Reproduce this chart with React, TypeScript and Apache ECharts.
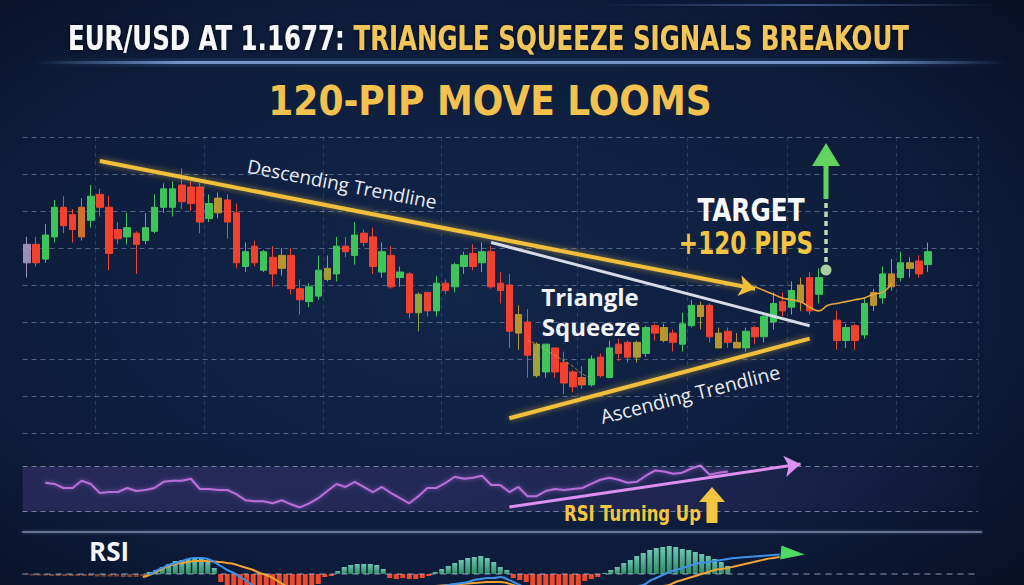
import React, { useEffect, useRef } from 'react';
import * as echarts from 'echarts';

// ---------- texts ----------
const TITLE_WHITE = 'EUR/USD AT 1.1677: ';
const TITLE_YELLOW = 'TRIANGLE SQUEEZE SIGNALS BREAKOUT';
const SUBTITLE = '120-PIP MOVE LOOMS';

// ---------- candles (one per slot, null = empty slot) ----------
const opens = [
  1.1642, 1.1642, 1.1634, 1.1646, 1.1662, 1.1658, 1.1662, 1.1655, 1.1669, 1.1662,
  1.1650, 1.1646, 1.1648, 1.1644, 1.1649, 1.1662, 1.1662, 1.1674, 1.1673, 1.1673,
  1.1656, 1.1659, 1.1666, 1.1659, 1.1630, 1.1641, 1.1628, 1.1635, 1.1636, 1.1636,
  1.1618, 1.1611, 1.1614, 1.1623, 1.1626, 1.1641, 1.1636, 1.1648, 1.1646, 1.1627,
  1.1636, 1.1624, 1.1626, 1.1605, 1.1616, 1.1606, 1.1621, 1.1619, 1.1630, 1.1637,
  1.1632, 1.1638, 1.1621, 1.1620, 1.1604, 1.1600, 1.1571, 1.1573, 1.1586, 1.1578,
  1.1573, 1.1570, 1.1566, 1.1581, 1.1570, 1.1588, 1.1589, 1.1581, 1.1583, 1.1598,
  1.1590, 1.1594, 1.1588, 1.1598, 1.1603, 1.1609, 1.1594, 1.1595, 1.1586, 1.1586,
  1.1597, 1.1592, 1.1600, 1.1611, 1.1608, 1.1611, 1.1624, 1.1615, null,
  1.1601, 1.1590, 1.1598, 1.1593, 1.1609, 1.1613, 1.1619, 1.1624, 1.1629, 1.1633, 1.1631,
];
const closes = [
  1.1632, 1.1632, 1.1647, 1.1662, 1.1652, 1.1650, 1.1646, 1.1668, 1.1662, 1.1637,
  1.1645, 1.1651, 1.1642, 1.1651, 1.1662, 1.1672, 1.1672, 1.1665, 1.1664, 1.1654,
  1.1664, 1.1667, 1.1654, 1.1632, 1.1638, 1.1632, 1.1638, 1.1626, 1.1629, 1.1618,
  1.1612, 1.1619, 1.1628, 1.1629, 1.1641, 1.1638, 1.1647, 1.1643, 1.1630, 1.1638,
  1.1619, 1.1627, 1.1605, 1.1615, 1.1606, 1.1621, 1.1617, 1.1631, 1.1636, 1.1630,
  1.1638, 1.1619, 1.1617, 1.1595, 1.1594, 1.1582, 1.1588, 1.1588, 1.1573, 1.1567,
  1.1565, 1.1566, 1.1580, 1.1571, 1.1586, 1.1583, 1.1581, 1.1589, 1.1597, 1.1594,
  1.1597, 1.1589, 1.1599, 1.1609, 1.1609, 1.1592, 1.1586, 1.1589, 1.1589, 1.1595,
  1.1592, 1.1603, 1.1610, 1.1606, 1.1617, 1.1620, 1.1606, 1.1624, null,
  1.1590, 1.1597, 1.1590, 1.1610, 1.1616, 1.1626, 1.1626, 1.1632, 1.1632, 1.1626, 1.1638,
];
const lows = [
  1.1624, 1.1630, 1.1632, 1.1643, 1.1648, 1.1643, 1.1644, 1.1651, 1.1657, 1.1628,
  1.1642, 1.1642, 1.1626, 1.1642, 1.1648, 1.1659, 1.1657, 1.1661, 1.1660, 1.1648,
  1.1654, 1.1656, 1.1645, 1.1629, 1.1627, 1.1630, 1.1627, 1.1619, 1.1625, 1.1615,
  1.1604, 1.1608, 1.1612, 1.1622, 1.1622, 1.1635, 1.1631, 1.1641, 1.1626, 1.1624,
  1.1618, 1.1619, 1.1602, 1.1595, 1.1603, 1.1603, 1.1615, 1.1616, 1.1626, 1.1628,
  1.1627, 1.1618, 1.1610, 1.1586, 1.1585, 1.1570, 1.1570, 1.1570, 1.1570, 1.1561,
  1.1562, 1.1564, 1.1565, 1.1570, 1.1570, 1.1579, 1.1578, 1.1578, 1.1581, 1.1590,
  1.1589, 1.1584, 1.1584, 1.1597, 1.1596, 1.1589, 1.1586, 1.1586, 1.1586, 1.1584,
  1.1588, 1.1589, 1.1596, 1.1603, 1.1604, 1.1606, 1.1604, 1.1610, null,
  1.1585, 1.1586, 1.1585, 1.1591, 1.1606, 1.1610, 1.1617, 1.1622, 1.1624, 1.1624, 1.1627,
];
const highs = [
  1.1646, 1.1646, 1.1653, 1.1666, 1.1668, 1.1661, 1.1667, 1.1674, 1.1672, 1.1668,
  1.1654, 1.1659, 1.1649, 1.1659, 1.1669, 1.1675, 1.1676, 1.1683, 1.1676, 1.1675,
  1.1669, 1.1670, 1.1669, 1.1664, 1.1643, 1.1644, 1.1639, 1.1641, 1.1640, 1.1640,
  1.1623, 1.1621, 1.1636, 1.1636, 1.1646, 1.1646, 1.1654, 1.1650, 1.1651, 1.1643,
  1.1641, 1.1630, 1.1627, 1.1616, 1.1616, 1.1625, 1.1623, 1.1632, 1.1638, 1.1642,
  1.1643, 1.1641, 1.1627, 1.1626, 1.1609, 1.1607, 1.1589, 1.1588, 1.1586, 1.1584,
  1.1574, 1.1576, 1.1582, 1.1583, 1.1590, 1.1591, 1.1590, 1.1590, 1.1598, 1.1599,
  1.1599, 1.1596, 1.1605, 1.1612, 1.1611, 1.1610, 1.1597, 1.1597, 1.1594, 1.1597,
  1.1598, 1.1605, 1.1616, 1.1616, 1.1622, 1.1624, 1.1627, 1.1629, null,
  1.1606, 1.1599, 1.1599, 1.1613, 1.1618, 1.1630, 1.1634, 1.1638, 1.1635, 1.1636, 1.1643,
];
// candles drawn in muted / olive tones
const candleTints: Record<number, string> = {
  0: '#9c8fb6', 6: '#d0702e', 21: '#b8942e', 28: '#b8942e', 33: '#a69b36',
  43: '#8fa53a', 54: '#b8942e', 56: '#9ea23a', 61: '#e0602c', 67: '#a69b36',
  70: '#b8942e', 74: '#b8942e', 76: '#b8942e', 78: '#b8942e', 85: '#b8942e',
  93: '#b8942e', 95: '#c48a2c', 97: '#b8942e',
};

// moving-average lines on the price panel
const maStart = 80;
const maValues = [1.1619, 1.1617, 1.1615, 1.1613, 1.1612, 1.1611, 1.1608, 1.1606, 1.1609, 1.1610,
  1.1611, 1.1612, 1.1613, 1.1615, 1.1616, 1.1621];
const ma2Start = 55;
const ma2Values = [1.1590, 1.1588, 1.1585, 1.1582, 1.1579, 1.1576, 1.1572, 1.1570];

// trend lines: [slot, price]
const descendingLine = [[8, 1.1687], [80, 1.1618]];
const upperGreyLine = [[51, 1.1643], [86, 1.1598]];
const ascendingLine = [[53, 1.1548], [86, 1.1591]];

// ---------- RSI ----------
const rsiStart = 2;
const rsiValues = [
  55.5, 54.5, 50.9, 50.9, 57.3, 54.5, 46.4, 47.3, 47.3, 50.9,
  48.2, 49.1, 50.9, 56.4, 57.3, 57.3, 59.1, 50.0, 50.0, 49.1,
  49.1, 45.5, 40.0, 39.1, 39.1, 37.3, 40.0, 36.4, 33.6, 37.3,
  41.8, 48.2, 54.5, 51.8, 56.4, 51.8, 47.3, 51.8, 46.4, 41.8,
  37.3, 43.6, 50.9, 50.9, 55.5, 60.9, 59.1, 60.0, 61.8, 53.6,
  53.6, 47.3, 51.8, 43.6, 43.6, 48.2, 50.0, 49.1, 50.0, 50.9,
  54.5, 58.2, 60.0, 58.2, 55.5, 56.4, 61.8, 66.4, 65.5, 63.6,
  64.5, 68.2, 70.9, 62.7, 64.5, 65.5,
];
const rsiLevels = [30, 70];
const rsiTrend = [[53, 34], [85, 72.2]];

// ---------- MACD ----------
const macdHist = [
  null, -1.5, -1.5, -1.5, -2, -2, -2, -2, -2, -2,
  -2, -2.5, -2.5, -2.5, -2.5, -3, -3, -3, -2, 2,
  4, 7, 10, 13, 14, 15, 15, 15, 13, 6,
  -8, -11, -14, -16, -18, -19, -20, -20, -19, -18,
  -17, -15, -14, -13, -12, -10, -3, -2, 3, 7,
  9, 10, 10, 10, 9, 5, -4, -5, -4, -5,
  -5, -4, -2, 2, 5, 8, 11, 14, 16, 17,
  18, 16, 12, 7, 4, -4, -6, -8, -11, -14,
  -16, -17, -17, -16, -14, -11, -7, -5, -3, 1,
  4, 7, 11, 14, 18, 21, 24, 26, 27, 28,
  27, 25, 24, 22, 20, 18, 15, 12, 8,
];
const macdStart = 19;
const macdLine = [
  -1, 3, 6, 9, 11, 13, 15, 16, 16, 15,
  12, 8, 4, 1, -3, -7, -12, -15, -18, -21,
  -23, -25, -26, -27, -27, -27, -27, -26, -26, -25,
  -24, -23, -22, -21, -20, -19, -18, -17, -16, -15,
  -14, -13, -12, -12, -12, -12, -11, -10, -9, -8,
  -6, -5, -4, -4, -3, -5, -8, -11, -14, -16,
  -18, -19, -20, -20, -20, -19, -18, -17, -16, -15,
  -15, -14, -14, -13, -13, -12, -11, -7, -4, -1,
  2, 4, 6, 8, 10, 11, 12, 13, 14, 15,
  16, 16.5, 17, 17.5, 18, 18.5, 19, 19.5,
];
const signalStart = 18;
const signalLine = [
  -3, -1, 2, 5, 8, 10, 11, 12, 13, 13,
  13, 12.5, 12, 11, 10, 8, 6, 4, 1, -1,
  -4, -8, -12, -15, -17, -19, -21, -22, -23, -24,
  -24, -24, -24, -23, -22, -21, -20, -19, -18, -17,
  -16, -15, -14, -13, -12.5, -12, -11.5, -11, -10.5, -10,
  -9.5, -9, -8.5, -8, -8, -8, -9, -11, -13, -15,
  -16, -17, -18, -19, -19, -19, -19, -19, -18, -18,
  -17, -17, -16, -16, -15, -15, -14, -14, -13, -12.5,
  -12, -11, -8, -6, -4, -2, 0, 2, 4, 5,
  6, 7.5, 9, 10.5, 12, 13.5, 15, 16, 17,
];

// ---------- layout constants ----------
const MAIN_SLOTS = 105;
const MACD_SLOTS = 147;
const VLINE_SLOTS = [8, 20, 33, 46, 61, 73, 84, 96];
const COND = "'DejaVu Sans Condensed', 'DejaVu Sans', sans-serif";
const OPEN = "'Open Sans', 'Noto Sans', sans-serif";
const YELLOW = '#f5c542';
const GOLD = '#f0bf3a';

function fillSlots(len: number, start: number, vals: (number | null)[]) {
  const out: (number | null)[] = Array.from({ length: len }, () => null);
  vals.forEach((v, i) => { out[start + i] = v; });
  return out;
}

function buildOption() {
  const mainCats = Array.from({ length: MAIN_SLOTS }, (_, i) => String(i));
  const macdCats = Array.from({ length: MACD_SLOTS }, (_, i) => String(i));

  const candleData = opens.map((o, i) => {
    if (o === null) return ['-', '-', '-', '-'];
    const v = [o, closes[i], lows[i], highs[i]];
    const t = candleTints[i];
    return t ? { value: v, itemStyle: { color: t, color0: t, borderColor: t, borderColor0: t } } : v;
  });

  const lineStyleGold = { color: GOLD, width: 4, type: 'solid', shadowBlur: 6, shadowColor: 'rgba(240,190,60,0.55)' };

  const macdLineData: any[] = fillSlots(MACD_SLOTS, macdStart, macdLine);
  const lastIdx = macdStart + macdLine.length - 1;
  macdLineData[lastIdx] = {
    value: macdLine[macdLine.length - 1],
    symbol: 'triangle', symbolSize: [14, 24], symbolRotate: -95, symbolOffset: [13, -1],
    itemStyle: { color: '#4cd964' },
  };

  const shadowTxt = { shadowBlur: 4, shadowColor: 'rgba(0,0,0,0.7)', shadowOffsetY: 1 };
  const titleRich = (fill: string) => ({
    fill, color: fill, fontSize: 34, fontWeight: 'bold', fontFamily: COND,
    textShadowBlur: 4, textShadowColor: 'rgba(0,0,0,0.7)',
  });

  return {
    animation: false,
    backgroundColor: '#0b1833',
    grid: [
      { left: 22.5, width: 955.5, top: 137, height: 296 },
      { left: 22.5, width: 955.5, top: 462, height: 54 },
      { left: 22.5, width: 955.5, top: 540, height: 45 },
    ],
    xAxis: [
      {
        type: 'category', gridIndex: 0, data: mainCats, boundaryGap: true,
        axisLine: { show: false }, axisTick: { show: false }, axisLabel: { show: false },
        splitLine: { show: true, interval: (i: number) => VLINE_SLOTS.includes(i), lineStyle: { color: 'rgba(150,175,215,0.22)', type: [4, 4] } },
      },
      { type: 'category', gridIndex: 1, data: mainCats, boundaryGap: true, show: false },
      { type: 'category', gridIndex: 2, data: macdCats, boundaryGap: true, show: false },
    ],
    yAxis: [
      {
        type: 'value', gridIndex: 0, min: 1.154, max: 1.17, interval: 0.002, scale: true,
        axisLine: { show: false }, axisTick: { show: false }, axisLabel: { show: false },
        splitLine: { show: true, lineStyle: { color: 'rgba(175,195,230,0.4)', type: [5, 4] } },
      },
      { type: 'value', gridIndex: 1, min: 26, max: 74, show: false, splitLine: { show: false } },
      { type: 'value', gridIndex: 2, min: -11, max: 34, show: false, splitLine: { show: false } },
    ],
    series: [
      {
        type: 'candlestick', xAxisIndex: 0, yAxisIndex: 0, data: candleData, barWidth: 7,
        itemStyle: { color: '#3fc45c', color0: '#f2412e', borderColor: '#3fc45c', borderColor0: '#f2412e', borderWidth: 1 },
        markLine: {
          silent: true, animation: false, symbol: ['none', 'none'], label: { show: false },
          data: [
            [
              { coord: descendingLine[0], symbol: 'none', lineStyle: lineStyleGold },
              { coord: descendingLine[1], symbol: 'arrow', symbolSize: 16 },
            ],
            [
              { coord: upperGreyLine[0], symbol: 'none', lineStyle: { color: '#d6dbe5', width: 3, type: 'solid' } },
              { coord: upperGreyLine[1], symbol: 'none' },
            ],
            [
              { coord: ascendingLine[0], symbol: 'none', lineStyle: lineStyleGold },
              { coord: ascendingLine[1], symbol: 'none' },
            ],
          ],
        },
      },
      {
        type: 'line', xAxisIndex: 0, yAxisIndex: 0, data: fillSlots(MAIN_SLOTS, maStart, maValues),
        smooth: true, showSymbol: false, lineStyle: { color: '#e9a43a', width: 1.6 }, z: 3,
      },
      {
        type: 'line', xAxisIndex: 0, yAxisIndex: 0, data: fillSlots(MAIN_SLOTS, ma2Start, ma2Values),
        smooth: true, showSymbol: false, lineStyle: { color: 'rgba(230,180,70,0.7)', width: 1, type: [3, 2] }, z: 3,
      },
      {
        type: 'line', xAxisIndex: 1, yAxisIndex: 1, data: fillSlots(MAIN_SLOTS, rsiStart, rsiValues),
        showSymbol: false, lineStyle: { color: '#b870d8', width: 2, shadowBlur: 4, shadowColor: 'rgba(190,110,230,0.6)' },
        markArea: {
          silent: true,
          itemStyle: {
            color: new echarts.graphic.LinearGradient(0, 0, 1, 0, [
              { offset: 0, color: 'rgba(110,80,180,0.26)' },
              { offset: 0.7, color: 'rgba(110,80,180,0.16)' },
              { offset: 1, color: 'rgba(110,80,180,0.02)' },
            ]),
          },
          data: [[{ yAxis: rsiLevels[0] }, { yAxis: rsiLevels[1] }]],
        },
        markLine: {
          silent: true, symbol: ['none', 'none'], label: { show: false },
          lineStyle: { color: 'rgba(190,200,230,0.55)', type: [5, 4], width: 1 },
          data: [
            { yAxis: rsiLevels[0] },
            { yAxis: rsiLevels[1] },
            [
              { coord: rsiTrend[0], symbol: 'none', lineStyle: { color: '#de90f0', width: 3, type: 'solid' } },
              { coord: rsiTrend[1], symbol: 'arrow', symbolSize: 16 },
            ],
          ],
        },
      },
      {
        type: 'bar', xAxisIndex: 2, yAxisIndex: 2, barWidth: 5,
        data: fillSlots(MACD_SLOTS, 0, macdHist),
        itemStyle: {
          color: (p: any) => {
            const v = p.value as number;
            if (v > 0) {
              return new echarts.graphic.LinearGradient(0, 0, 0, 1, [
                { offset: 0, color: '#6dc5b0' }, { offset: 1, color: '#2f8c62' },
              ]);
            }
            if (p.dataIndex < 19) return 'rgba(190,100,70,0.6)';
            return '#ec4a2c';
          },
        },
        markLine: {
          silent: true, symbol: ['none', 'none'], label: { show: false },
          lineStyle: { color: 'rgba(190,200,230,0.5)', type: [6, 5], width: 1.5 },
          data: [{ yAxis: 0 }],
        },
      },
      {
        type: 'line', xAxisIndex: 2, yAxisIndex: 2, data: fillSlots(MACD_SLOTS, signalStart, signalLine),
        smooth: true, showSymbol: false, lineStyle: { color: '#f3a233', width: 2 }, z: 4,
      },
      {
        type: 'line', xAxisIndex: 2, yAxisIndex: 2, data: macdLineData,
        smooth: true, showSymbol: true, showAllSymbol: true, symbol: 'none',
        lineStyle: { color: '#3f90e6', width: 2 }, itemStyle: { color: '#3f90e6' }, z: 5,
      },
    ],
    graphic: [
      {
        type: 'rect', z: -10, silent: true, shape: { x: 0, y: 0, width: 1024, height: 585 },
        style: {
          fill: new echarts.graphic.RadialGradient(0.45, 0.5, 0.75, [
            { offset: 0, color: '#12264a' }, { offset: 0.65, color: '#0d1c3a' }, { offset: 1, color: '#071024' },
          ]),
        },
      },
      {
        type: 'rect', z: 1, silent: true, shape: { x: 600, y: 4, width: 400, height: 2 },
        style: { fill: new echarts.graphic.LinearGradient(0, 0, 1, 0, [
          { offset: 0, color: 'rgba(110,150,210,0)' }, { offset: 0.5, color: 'rgba(110,150,210,0.5)' }, { offset: 1, color: 'rgba(110,150,210,0)' },
        ]) },
      },
      {
        type: 'rect', z: 1, silent: true, shape: { x: 35, y: 61, width: 970, height: 3 },
        style: {
          fill: new echarts.graphic.LinearGradient(0, 0, 1, 0, [
            { offset: 0, color: 'rgba(110,150,215,0)' }, { offset: 0.15, color: 'rgba(130,165,220,0.85)' },
            { offset: 0.85, color: 'rgba(130,165,220,0.85)' }, { offset: 1, color: 'rgba(110,150,215,0)' },
          ]),
          shadowBlur: 8, shadowColor: 'rgba(90,140,220,0.8)',
        },
      },
      {
        type: 'rect', z: 1, silent: true, shape: { x: 22, y: 531, width: 960, height: 2 },
        style: { fill: 'rgba(150,168,200,0.6)', shadowBlur: 4, shadowColor: 'rgba(150,170,210,0.6)' },
      },
      // titles
      {
        type: 'text', z: 60, x: 68, y: 38, scaleX: 0.8,
        style: {
          text: `{w|${TITLE_WHITE}}{y|${TITLE_YELLOW}}`,
          rich: { w: titleRich('#f6f7fa'), y: titleRich('#f3c65a') },
          font: `bold 34px ${COND}`, textAlign: 'left', textVerticalAlign: 'middle',
        },
      },
      {
        type: 'text', z: 60, x: 490, y: 101,
        style: { text: SUBTITLE, fill: '#f2c14e', font: `bold 40px ${COND}`, textAlign: 'center', textVerticalAlign: 'middle', shadowBlur: 6, shadowColor: 'rgba(0,0,0,0.7)' },
      },
      // target arrow
      { type: 'circle', z: 50, silent: true, shape: { cx: 826, cy: 270, r: 5.5 }, style: { fill: '#a7cfa0' } },
      { type: 'line', z: 50, silent: true, shape: { x1: 826, y1: 262, x2: 826, y2: 199 }, style: { stroke: '#b9dcb2', lineWidth: 3.5, lineDash: [5, 4] } },
      { type: 'rect', z: 50, silent: true, shape: { x: 823.5, y: 163, width: 5, height: 36 }, style: { fill: '#62d35e' } },
      { type: 'polygon', z: 50, silent: true, shape: { points: [[812, 166], [840, 166], [826, 143]] }, style: { fill: '#62d35e' } },
      // RSI up arrow
      { type: 'polygon', z: 50, silent: true, shape: { points: [[699, 502], [725, 502], [712, 487]] }, style: { fill: YELLOW } },
      { type: 'rect', z: 50, silent: true, shape: { x: 706.5, y: 501, width: 11, height: 22 }, style: { fill: YELLOW } },
      // annotation texts
      {
        type: 'text', z: 60, x: 342, y: 184, rotation: -0.19,
        style: { text: 'Descending Trendline', fill: '#e9ecf2', font: `19px ${OPEN}`, textAlign: 'center', textVerticalAlign: 'middle', ...shadowTxt },
      },
      {
        type: 'text', z: 60, x: 690, y: 394, rotation: 0.25,
        style: { text: 'Ascending Trendline', fill: '#e9ecf2', font: `19.5px ${OPEN}`, textAlign: 'center', textVerticalAlign: 'middle', ...shadowTxt },
      },
      {
        type: 'text', z: 60, x: 590, y: 296,
        style: { text: 'Triangle', fill: '#f2f4f8', font: `bold 24px ${OPEN}`, textAlign: 'center', textVerticalAlign: 'middle', ...shadowTxt },
      },
      {
        type: 'text', z: 60, x: 591, y: 326,
        style: { text: 'Squeeze', fill: '#f2f4f8', font: `bold 24px ${OPEN}`, textAlign: 'center', textVerticalAlign: 'middle', ...shadowTxt },
      },
      {
        type: 'text', z: 60, x: 751, y: 210, scaleX: 0.86,
        style: { text: 'TARGET', fill: '#f7f8fb', font: `bold 32px ${COND}`, textAlign: 'center', textVerticalAlign: 'middle', ...shadowTxt },
      },
      {
        type: 'text', z: 60, x: 746, y: 243, scaleX: 0.8,
        style: { text: '+120 PIPS', fill: YELLOW, font: `bold 32px ${COND}`, textAlign: 'center', textVerticalAlign: 'middle', ...shadowTxt },
      },
      {
        type: 'text', z: 60, x: 564, y: 514, scaleX: 0.87,
        style: { text: 'RSI Turning Up', fill: YELLOW, font: `bold 21px ${COND}`, textAlign: 'left', textVerticalAlign: 'middle', ...shadowTxt },
      },
      {
        type: 'text', z: 60, x: 89, y: 551,
        style: { text: 'RSI', fill: '#f4f6fa', font: `bold 26px ${OPEN}`, textAlign: 'left', textVerticalAlign: 'middle', ...shadowTxt },
      },
    ],
  };
}

export default function App() {
  const ref = useRef<HTMLDivElement>(null);
  useEffect(() => {
    document.body.style.margin = '0';
    document.body.style.background = '#0b1833';
    const chart = echarts.init(ref.current as HTMLDivElement, null, { renderer: 'svg' });
    chart.setOption(buildOption() as any);
    return () => chart.dispose();
  }, []);
  return <div ref={ref} style={{ position: 'fixed', left: 0, top: 0, width: 1024, height: 585 }} />;
}
